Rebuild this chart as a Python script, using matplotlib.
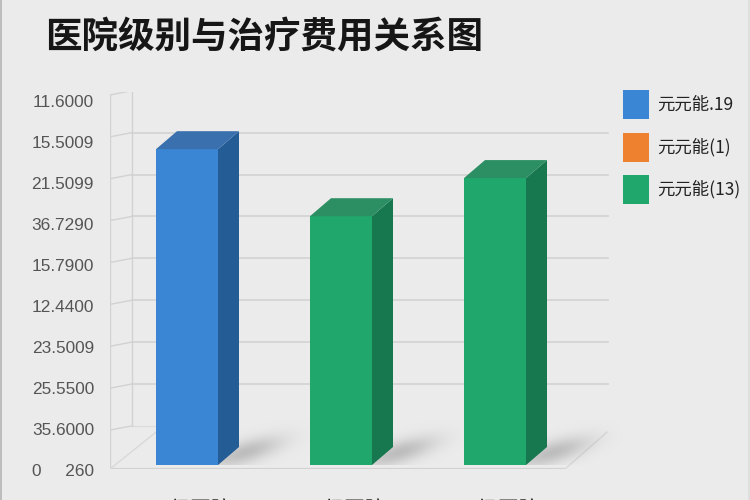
import numpy as np
from matplotlib import pyplot as plt
from matplotlib.patches import Polygon, Rectangle

plt.rcParams['font.family'] = ['Noto Sans CJK SC', 'DejaVu Sans']

title = '医院级别与治疗费用关系图'
tick_labels = ['0     260', '35.6000', '25.5500', '23.5009', '12.4400',
               '15.7900', '36.7290', '21.5099', '15.5009', '11.6000']
categories = ['级医院', '级医院', '二级医院']
bar_values = [7.54, 5.94, 6.85]
bar_colors = ['#3a86d4', '#1fa76c', '#1fa76c']
side_colors = ['#245c96', '#17784f', '#17784f']
top_colors = ['#3a70ad', '#2c8f63', '#2c8f63']
legend_labels = ['元元能.19', '元元能(1)', '元元能(13)']
legend_colors = ['#3a86d4', '#ee8130', '#1fa76c']

bg = '#ebebeb'
grid = '#d2d2d2'

fig = plt.figure(figsize=(7.5, 5), dpi=100, facecolor=bg)
# axes box is the front plane of the 3d look, 1 x unit is 1 pixel, 1 y unit is one tick step
ax = fig.add_axes([110 / 750, 31 / 500, 530 / 750, 377 / 500])
ax.set_xlim(0, 530)
ax.set_ylim(0, 9)
ax.axis('off')

wall_dx = 22
floor_dx = 42
floor_dy = 0.88
bar_x = [46, 200, 354]
bar_w = 62
base = 0.095
bar_dx = 21
bar_dy = 18 / 41.9


def shadow(x0, y0):
    # soft floor shadow, runs up and to the right from the bar corner
    xx, yy = np.meshgrid(np.linspace(0, 100, 200), np.linspace(0, 1.1, 110))
    axis = 0.12 + xx * 0.0065
    a = np.exp(-((xx - 32) / 38) ** 2 - ((yy - axis) / 0.27) ** 2) * 0.45
    a = a * (1 - xx / 100) ** 0.5
    img = np.zeros(a.shape + (4,))
    img[..., :3] = 0.45
    img[..., 3] = a
    ax.imshow(img, extent=(x0, x0 + 100, y0, y0 + 1.1), origin='lower',
              aspect='auto', zorder=2, interpolation='bilinear')


# walls and floor
for k in range(1, 10):
    ax.plot([0, wall_dx], [k - 0.07, k + 0.03], color=grid, lw=1, zorder=1)
    if k > 1:
        ax.plot([wall_dx, 498], [k + 0.03, k + 0.03], color=grid, lw=1.2, zorder=1)
ax.plot([wall_dx, bar_x[0]], [1.03, 1.03], color='#dcdcdc', lw=1, zorder=1)
ax.plot([0, 0], [0, 8.93], color=grid, lw=1, zorder=1)
ax.plot([wall_dx, wall_dx], [1.03, 9.2], color=grid, lw=1, zorder=1)
ax.plot([0, 455], [0, 0], color=grid, lw=1.6, zorder=1)
ax.plot([0, floor_dx + 4], [0, floor_dy], color='#d9d9d9', lw=1, zorder=1)
ax.plot([455, 455 + floor_dx], [0, floor_dy], color='#d9d9d9', lw=1, zorder=1)

for x in bar_x:
    shadow(x + bar_w, base)
ax.set_xlim(0, 530)
ax.set_ylim(0, 9)

for x, v, c, s, t in zip(bar_x, bar_values, bar_colors, side_colors, top_colors):
    top = base + v
    ax.bar(x, v, bottom=base, width=bar_w, align='edge', color=c, zorder=3)
    ax.add_patch(Polygon([(x + bar_w, base), (x + bar_w + bar_dx, base + bar_dy),
                          (x + bar_w + bar_dx, top + bar_dy), (x + bar_w, top)],
                         closed=True, fc=s, ec='none', zorder=3))
    ax.add_patch(Polygon([(x, top), (x + bar_dx, top + bar_dy),
                          (x + bar_w + bar_dx, top + bar_dy), (x + bar_w, top)],
                         closed=True, fc=t, ec='none', zorder=3))

# tick labels have a slightly tighter step than the gridlines
for i, lab in enumerate(tick_labels):
    ax.text(-16, i * 0.978 - 0.05, lab, ha='right', va='center', fontsize=12.4, color='#555555',
            family='Liberation Sans', clip_on=False)

# the category labels run off the bottom of the picture, same as the reference
for x, cat in zip(bar_x, categories):
    ax.text(x + bar_w + 14, -0.97, cat, ha='right', va='center', fontsize=15,
            color='#222222', clip_on=False)

fig.text(45 / 750, 1 - 37 / 500, title, fontsize=26.3, fontweight='bold', color='#161616',
         va='center', ha='left')

# legend drawn by hand, swatches are square
for i, (lab, c) in enumerate(zip(legend_labels, legend_colors)):
    yc = 1 - (104.5 + 42.5 * i) / 500
    fig.add_artist(Rectangle((623 / 750, yc - 14.5 / 500), 26 / 750, 29 / 500, fc=c, ec='none',
                             transform=fig.transFigure))
    fig.text(657 / 750, yc, lab, fontsize=12.5, color='#222222', va='center', ha='left')

# edges of the picture
fig.add_artist(Rectangle((0, 0), 1.5 / 750, 1, fc='#bdbdbd', ec='none', transform=fig.transFigure))
fig.add_artist(Rectangle((748 / 750, 0), 2 / 750, 1, fc='#dedede', ec='none', transform=fig.transFigure))

fig.savefig('out.png', dpi=100, facecolor=bg)
